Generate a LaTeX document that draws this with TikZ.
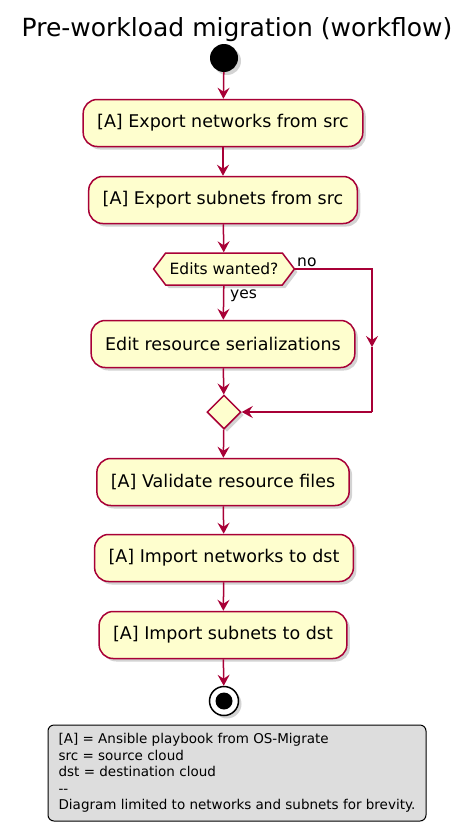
\documentclass[tikz,border=0pt]{standalone}
\usepackage{fontspec}
\setmainfont{DejaVu Sans}
\usetikzlibrary{arrows.meta,shapes.symbols,shapes.geometric,shadows}
\definecolor{actfill}{HTML}{FEFECE}
\definecolor{actline}{HTML}{A80036}
\definecolor{notefill}{HTML}{DDDDDD}
\tikzset{
  shad/.style={drop shadow={shadow xshift=3pt,shadow yshift=-3pt,opacity=0.35,fill=gray}},
  act/.style={draw=actline,fill=actfill,line width=1.5pt,rounded corners=14pt,
    minimum height=47pt,inner xsep=14pt,font=\fontsize{17.5}{21}\selectfont,shad},
  flow/.style={draw=actline,line width=1.5pt,-{Stealth[length=11pt,width=12pt,inset=4pt]}},
  flowline/.style={draw=actline,line width=1.5pt},
  lbl/.style={font=\fontsize{15.5}{18}\selectfont,inner sep=0pt},
}
\begin{document}
\begin{tikzpicture}[x=1pt,y=1pt]
\useasboundingbox (0,0) rectangle (474,-835);
\node[font=\fontsize{25}{30}\selectfont] (title) at (237,-30) {Pre-workload migration (workflow)};
\node[circle,fill=black,minimum size=28pt,inner sep=0pt,shad] (start) at (224,-58) {};
\node[act] (a1) at (223,-123) {[A] Export networks from src};
\node[act] (a2) at (223,-200) {[A] Export subnets from src};
\node[signal,signal to=west and east,signal pointer angle=106,draw=actline,fill=actfill,
  line width=1.5pt,minimum height=32pt,inner xsep=4pt,font=\fontsize{15.5}{18}\selectfont,shad] (dec) at (224,-269) {Edits wanted?};
\node[act] (a3) at (223,-344) {Edit resource serializations};
\node[diamond,draw=actline,fill=actfill,line width=1.5pt,minimum size=34pt,inner sep=0pt,shad] (merge) at (224,-412) {};
\node[act] (a4) at (223,-482) {[A] Validate resource files};
\node[act] (a5) at (224,-558) {[A] Import networks to dst};
\node[act] (a6) at (223,-635) {[A] Import subnets to dst};
\node[circle,draw=black,line width=1.5pt,fill=white,minimum size=29pt,inner sep=0pt,shad] (stop) at (224,-701) {};
\node[circle,fill=black,minimum size=17pt,inner sep=0pt] (stopin) at (stop.center) {};
\node[draw=black,fill=notefill,line width=1pt,rounded corners=6pt,align=left,
  font=\fontsize{13.5}{16.4}\selectfont,inner xsep=8pt,inner ysep=6pt,
  minimum width=378pt,minimum height=96pt] (note) at (237,-773)
  {[A] = Ansible playbook from OS-Migrate\\src = source cloud\\dst = destination cloud\\-{}-\\Diagram limited to networks and subnets for brevity.};
\draw[flow] (start) -- (a1);
\draw[flow] (a1) -- (a2);
\draw[flow] (a2) -- (dec);
\draw[flow] (dec) -- (a3);
\draw[flow] (a3) -- (merge);
\coordinate (c1) at (372,-269);
\coordinate (c2) at (372,-347);
\coordinate (c3) at (372,-412);
\draw[flow] (dec.east) -- (c1) -- (c2);
\draw[flowline] (c2) -- (c3);
\draw[flow] (c3) -- (merge.east);
\draw[flow] (merge) -- (a4);
\draw[flow] (a4) -- (a5);
\draw[flow] (a5) -- (a6);
\draw[flow] (a6) -- (stop);
\node[lbl,anchor=south west] (nolbl) at (297,-267) {no};
\node[lbl,anchor=west] (yeslbl) at (230,-296) {yes};
\end{tikzpicture}
\end{document}
